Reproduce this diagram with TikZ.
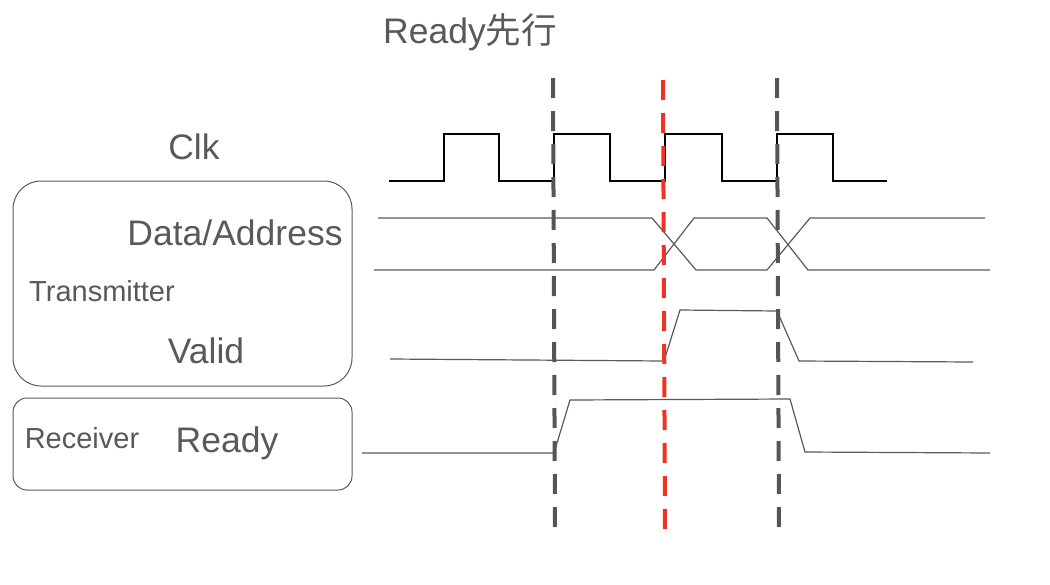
\documentclass[tikz,border=0pt]{standalone}
\usepackage{fontspec}
\setmainfont{Liberation Sans}
\newfontfamily\cjk{Noto Sans CJK SC}
\definecolor{txtgray}{HTML}{595959}
\definecolor{dashgray}{HTML}{555555}
\definecolor{dashred}{HTML}{EE3322}
\tikzset{
  lbl/.style={text=txtgray, inner sep=0pt, font=\fontsize{35.5}{40}\selectfont},
  smalllbl/.style={text=txtgray, inner sep=0pt, font=\fontsize{29}{34}\selectfont},
  clkline/.style={black, line width=1.4pt},
  sigline/.style={txtgray, line width=1.2pt},
  box/.style={draw=txtgray, line width=1pt},
  marker/.style={line width=4pt, dash pattern=on 20pt off 13pt}
}
\begin{document}
\begin{tikzpicture}[x=1pt, y=-1pt]
\useasboundingbox (0,0) rectangle (1050,584);
% boxes
\draw[box, rounded corners=28pt] (13,181) rectangle (352,386);
\draw[box, rounded corners=14pt] (13,398) rectangle (352,490);
% labels
\node[lbl] (title) at (470,32) {Ready{\cjk 先行}};
\node[lbl] (clk) at (194,147) {Clk};
\node[lbl] (data) at (235,233) {Data/Address};
\node[smalllbl] (tx) at (102,291) {Transmitter};
\node[lbl] (valid) at (206,351) {Valid};
\node[smalllbl] (rx) at (82,438) {Receiver};
\node[lbl] (ready) at (227,443) {Ready};
% clock
\draw[clkline] (389,181) -- (444,181) -- (444,134) -- (499,134) -- (499,181)
  -- (554,181) -- (554,134) -- (610,134) -- (610,181)
  -- (665,181) -- (665,134) -- (722,134) -- (722,181)
  -- (777,181) -- (777,134) -- (833,134) -- (833,181) -- (887,181);
% data / address
\draw[sigline] (378,218) -- (652,218) -- (696,270) -- (767,270) -- (810,218) -- (985,218);
\draw[sigline] (374,270) -- (654,270) -- (694,218) -- (767,218) -- (808,270) -- (990,270);
% valid
\draw[sigline] (390,359) -- (664,361) -- (680,310) -- (777,311) -- (799,361) -- (973,362);
% ready
\draw[sigline] (362,453) -- (554,453) -- (570,400) -- (790,399) -- (805,452) -- (990,453);
% markers
\draw[marker, dashgray] (553,78) -- (555,530);
\draw[marker, dashred] (663,80) -- (665,530);
\draw[marker, dashgray] (777,78) -- (779,530);
\end{tikzpicture}
\end{document}
